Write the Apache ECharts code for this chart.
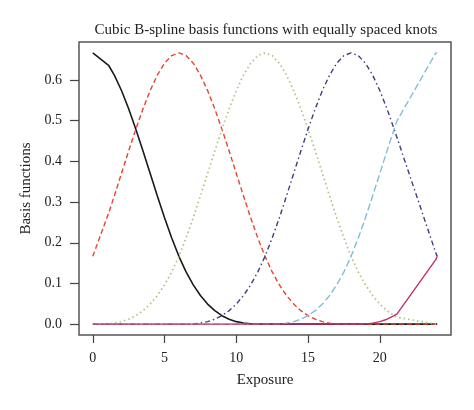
<!DOCTYPE html>
<html>
<head>
<meta charset="utf-8">
<script src="https://cdn.jsdelivr.net/npm/echarts@6/dist/echarts.min.js"></script>
<style>html,body{margin:0;padding:0;background:#fff}#c{width:474px;height:410px}</style>
</head>
<body>
<div id="c"></div>
<script>
const titleText = 'Cubic B-spline basis functions with equally spaced knots';
const xName = 'Exposure';
const yName = 'Basis functions';
const xTicks = [0, 5, 10, 15, 20];
const yTicks = [0, 0.1, 0.2, 0.3, 0.4, 0.5, 0.6];
const exposure = [0, 1.1, 1.5, 2, 2.5, 3, 3.5, 4, 4.5, 5, 5.5, 6, 6.5, 7, 7.5, 8, 8.5, 9, 9.5, 10, 10.5, 11, 11.5, 12, 12.5, 13, 13.5, 14, 14.5, 15, 15.5, 16, 16.5, 17, 17.5, 18, 18.5, 19, 19.5, 20, 20.5, 21, 21.2, 23.9, 24];
const basis1 = [0.66667,0.63614,0.61198,0.57407,0.52922,0.47917,0.42564,0.37037,0.31510,0.26157,0.21152,0.16667,0.12838,0.09645,0.07031,0.04938,0.03308,0.02083,0.01206,0.00617,0.00260,0.00077,0.00010,
  0,0,0,0,0,0,0,0,0,0,0,0,0,0,0,0,0,0,0,0,0,0];
const basis2 = [0.16667,0.27207,0.31510,0.37037,0.42564,0.47917,0.52922,0.57407,0.61198,0.64120,0.66001,0.66667,0.66001,0.64120,0.61198,0.57407,0.52922,0.47917,0.42564,0.37037,0.31510,0.26157,0.21152,0.16667,0.12838,0.09645,0.07031,0.04938,0.03308,0.02083,0.01206,0.00617,0.00260,0.00077,0.00010,
  0,0,0,0,0,0,0,0,0,0];
const basis3 = [0,0.00103,0.00260,0.00617,0.01206,0.02083,0.03308,0.04938,0.07031,0.09645,0.12838,0.16667,0.21152,0.26157,0.31510,0.37037,0.42564,0.47917,0.52922,0.57407,0.61198,0.64120,0.66001,0.66667,0.66001,0.64120,0.61198,0.57407,0.52922,0.47917,0.42564,0.37037,0.31510,0.26157,0.21152,0.16667,0.12838,0.09645,0.07031,0.04938,0.03308,0.02083,0.01694,0,0];
const basis4 = [0,0,0,0,0,0,0,0,0,0,0,0,
  0.00010,0.00077,0.00260,0.00617,0.01206,0.02083,0.03308,0.04938,0.07031,0.09645,0.12838,0.16667,0.21152,0.26157,0.31510,0.37037,0.42564,0.47917,0.52922,0.57407,0.61198,0.64120,0.66001,0.66667,0.66001,0.64120,0.61198,0.57407,0.52922,0.47917,0.45808,0.17515,0.16667];
const basis5 = [0,0,0,0,0,0,0,0,0,0,0,0,0,0,0,0,0,0,0,0,0,0,0,0,
  0.00010,0.00077,0.00260,0.00617,0.01206,0.02083,0.03308,0.04938,0.07031,0.09645,0.12838,0.16667,0.21152,0.26157,0.31510,0.37037,0.42564,0.47917,0.49970,0.66639,0.66667];
const basis6 = [0,0,0,0,0,0,0,0,0,0,0,0,0,0,0,0,0,0,0,0,0,0,0,0,0,0,0,0,0,0,0,0,0,0,0,0,
  0.00010,0.00077,0.00260,0.00617,0.01206,0.02083,0.02528,0.15847,0.16667];

const serif = '"Liberation Serif", "DejaVu Serif", serif';
const styles = [
  {color:'#1a1a1a', width:1.6, type:'solid'},
  {color:'#e8432e', width:1.4, type:[5,3]},
  {color:'#a9c57c', width:1.7, type:[1.5,3]},
  {color:'#3d3d80', width:1.4, type:[5,3,1.5,3]},
  {color:'#86bdd6', width:1.4, type:[7,3]},
  {color:'#c2306b', width:1.4, type:'solid'}
];
const allBasis = [basis1, basis2, basis3, basis4, basis5, basis6];

const chart = echarts.init(document.getElementById('c'), null, {renderer:'canvas'});
chart.setOption({
  animation: false,
  backgroundColor: '#fff',
  title: {
    text: titleText, left: 261, top: 18, textAlign: 'center',
    textStyle: {fontFamily: serif, fontSize: 15, fontWeight: 'normal', color: '#222'}
  },
  grid: {left: 79, right: 23, top: 42, bottom: 75, show: true, borderColor: '#555', borderWidth: 1.5, backgroundColor: 'transparent'},
  xAxis: {
    type: 'value', min: -0.96, max: 24.96,
    name: xName, nameLocation: 'middle', nameGap: 38,
    nameTextStyle: {fontFamily: serif, fontSize: 15, color: '#222'},
    axisLine: {show: false, onZero: false},
    splitLine: {show: false},
    axisTick: {show: true, length: 8, inside: false, customValues: xTicks, lineStyle: {color: '#444', width: 1.2}},
    axisLabel: {customValues: xTicks, margin: 16, fontFamily: serif, fontSize: 14, color: '#222'}
  },
  yAxis: {
    type: 'value', min: -0.02667, max: 0.69333,
    name: yName, nameLocation: 'middle', nameGap: 38, nameRotate: 90,
    nameTextStyle: {fontFamily: serif, fontSize: 15, color: '#222'},
    axisLine: {show: false, onZero: false},
    splitLine: {show: false},
    axisTick: {show: true, length: 9, inside: false, customValues: yTicks, lineStyle: {color: '#444', width: 1.2}},
    axisLabel: {customValues: yTicks, margin: 17, fontFamily: serif, fontSize: 14, color: '#222',
      formatter: v => v.toFixed(1)}
  },
  series: allBasis.map((arr, k) => ({
    type: 'line',
    data: exposure.map((x, i) => [x, arr[i]]),
    showSymbol: false,
    smooth: false,
    lineStyle: styles[k],
    z: 2 + k
  }))
});
</script>
</body>
</html>
